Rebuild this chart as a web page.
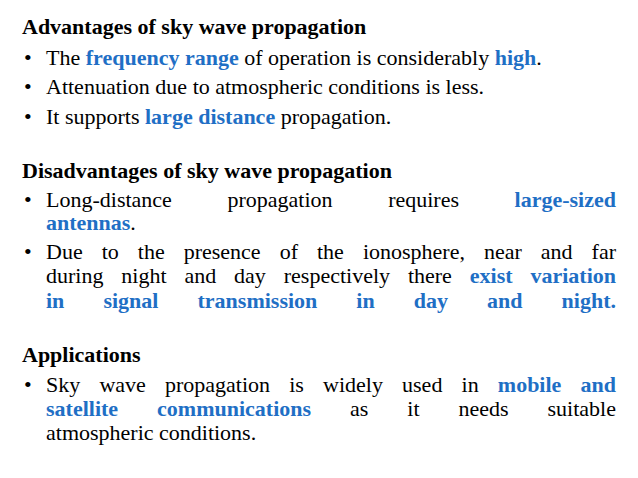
<!DOCTYPE html>
<html><head><meta charset="utf-8">
<script src="https://cdn.jsdelivr.net/npm/chart.js@4"></script>
<style>
body{margin:0;width:638px;height:478px;background:#fff;font-size:22px;color:#000;position:relative;overflow:hidden}
.l,.bu,.b,.c{font-family:"Liberation Serif","Times New Roman",Tinos,"Nimbus Roman",Times,serif}
.l{position:absolute;line-height:26px;white-space:nowrap;font-weight:400}
.j{text-align:justify;text-align-last:justify;width:570px;white-space:normal}
.b{font-weight:bold}
.c{color:#1f6fc5;font-weight:bold}
.bu{position:absolute;left:24px;line-height:26px}
canvas{position:absolute;left:0;top:0}
</style></head><body>
<canvas id="c" width="1" height="1"></canvas>
<script>
const lines=[
 {y:28,x:22,h:'<span class="b">Advantages of sky wave propagation</span>'},
 {y:59,x:46,bu:1,h:'The <span class="c">frequency range</span> of operation is considerably <span class="c">high</span>.'},
 {y:88,x:46,bu:1,h:'Attenuation due to atmospheric conditions is less.'},
 {y:118,x:46,bu:1,h:'It supports <span class="c">large distance</span> propagation.'},
 {y:172,x:22,h:'<span class="b">Disadvantages of sky wave propagation</span>'},
 {y:201,x:46,bu:1,j:1,h:'Long-distance propagation requires <span class="c">large-sized</span>'},
 {y:224,x:46,h:'<span class="c">antennas</span>.'},
 {y:253,x:46,bu:1,j:1,h:'Due to the presence of the ionosphere, near and far'},
 {y:277,x:46,j:1,h:'during night and day respectively there <span class="c">exist variation</span>'},
 {y:302,x:46,j:1,h:'<span class="c">in signal transmission in day and night.</span>'},
 {y:356,x:22,h:'<span class="b">Applications</span>'},
 {y:386,x:46,bu:1,j:1,h:'Sky wave propagation is widely used in <span class="c">mobile and</span>'},
 {y:410,x:46,j:1,h:'<span class="c">satellite communications</span> as it needs suitable'},
 {y:434,x:46,h:'atmospheric conditions.'}
];
for(const l of lines){
 const d=document.createElement('div');d.className='l'+(l.j?' j':'');
 d.style.left=l.x+'px';d.style.top=(l.y-14)+'px';d.innerHTML=l.h;document.body.appendChild(d);
 if(l.bu){const b=document.createElement('div');b.className='bu';b.style.top=(l.y-14)+'px';b.textContent='•';document.body.appendChild(b);}
}
</script>
</body></html>
